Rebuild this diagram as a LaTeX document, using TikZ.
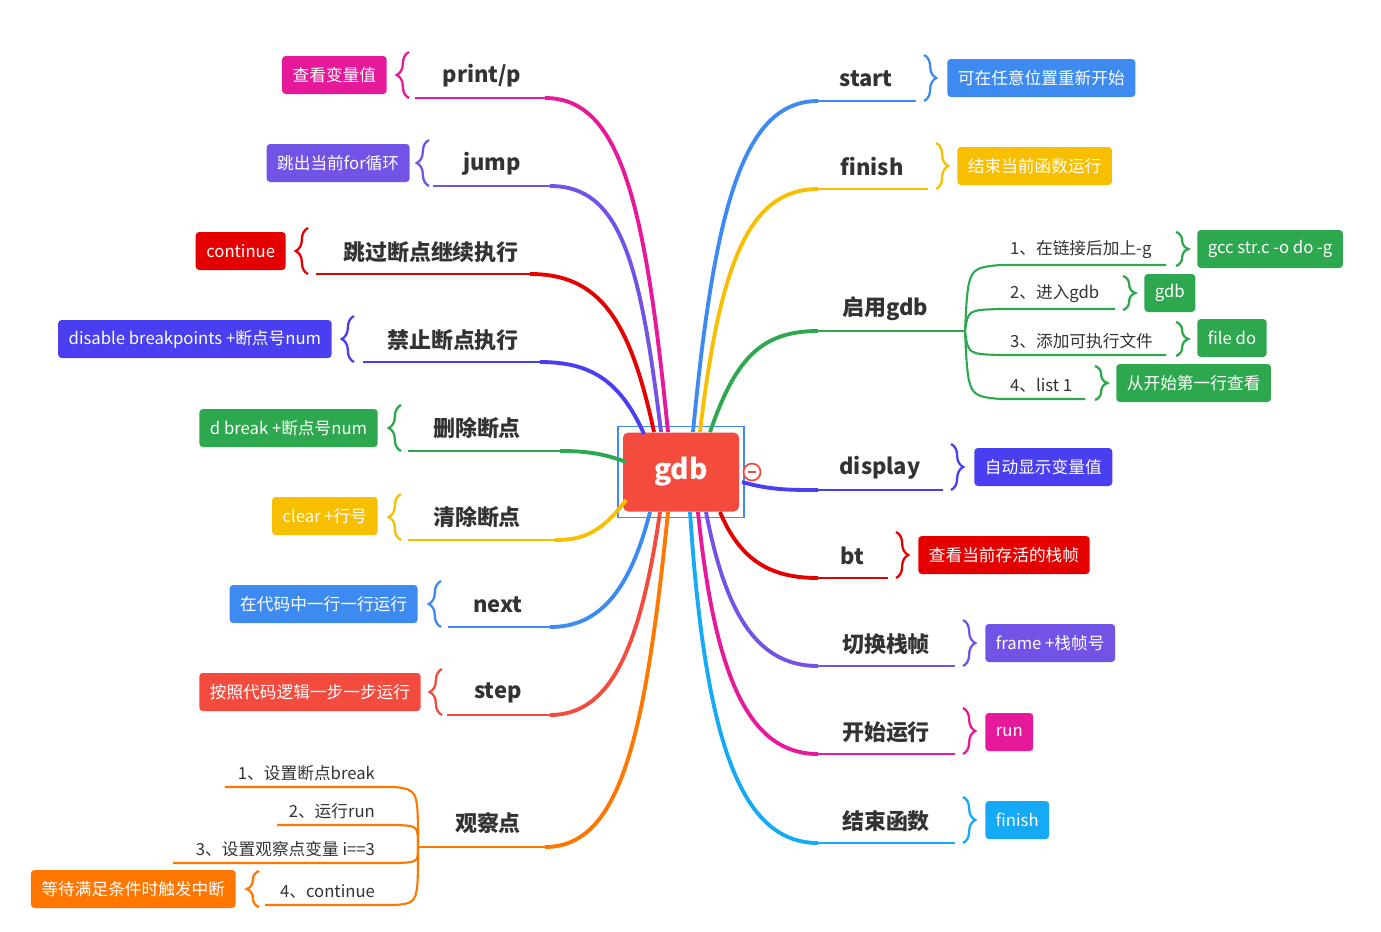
\documentclass[tikz,border=0pt]{standalone}
\usepackage{fontspec}
\setmainfont{Noto Sans CJK SC}
\usetikzlibrary{decorations.pathreplacing}
\definecolor{cpink}{HTML}{E5199A}
\definecolor{cpurple}{HTML}{7253E6}
\definecolor{cred}{HTML}{E50000}
\definecolor{cindigo}{HTML}{4A3FF0}
\definecolor{cgreen}{HTML}{2DA84E}
\definecolor{cyellow}{HTML}{F8BE00}
\definecolor{cblue}{HTML}{3D8BF0}
\definecolor{ctomato}{HTML}{F44B3F}
\definecolor{corange}{HTML}{FF7600}
\definecolor{ccyan}{HTML}{16A9F5}
\tikzset{
	box/.style={fill=#1, text=white, rounded corners=2pt, font=\fontsize{9.5}{11}\selectfont,
		minimum height=0.76cm, inner xsep=6pt},
	topic/.style={font=\fontsize{12.5}{14}\selectfont\bfseries, text=black!80, inner sep=1pt},
	item/.style={font=\fontsize{9.5}{11}\selectfont, text=black!80, inner sep=1pt, anchor=south east},
	curl/.style={draw=#1, line width=1.3pt, decorate, decoration={brace, amplitude=7pt}},
	branch/.style={draw=#1, line width=2.2pt},
	uline/.style={draw=#1, line width=1.2pt},
}
\begin{document}
\begin{tikzpicture}[x=0.02cm, y=-0.02cm]
	\useasboundingbox (0,0) rectangle (1381,931);

	% centre
	\node[draw=cblue, line width=1pt, minimum width=2.52cm, minimum height=1.82cm] (sel) at (681,472) {};
	\node[fill=ctomato, rounded corners=3pt, minimum width=2.32cm, minimum height=1.58cm,
		text=white, font=\fontsize{16}{18}\selectfont\bfseries] (gdb) at (681,472) {gdb};
	\node[draw=ctomato, circle, line width=1pt, inner sep=0pt, minimum size=0.34cm, fill=white] (fold) at (752,472) {};
	\draw[ctomato, line width=1.2pt] ([xshift=-2.5pt]fold.center) -- ([xshift=2.5pt]fold.center);

	% left side
	\node[topic] (l1) at (482,76) {print/p};
	\node[topic] (l2) at (492,164) {jump};
	\node[topic] (l3) at (431,252) {跳过断点继续执行};
	\node[topic] (l4) at (453,340) {禁止断点执行};
	\node[topic] (l5) at (477,428) {删除断点};
	\node[topic] (l6) at (477,517) {清除断点};
	\node[topic] (l7) at (498,605) {next};
	\node[topic] (l8) at (498,693) {step};
	\node[topic] (l9) at (488,823) {观察点};

	\coordinate (l1a) at (415,98);  \coordinate (l1b) at (545,98);
	\coordinate (l2a) at (433,186); \coordinate (l2b) at (550,186);
	\coordinate (l3a) at (316,274); \coordinate (l3b) at (530,274);
	\coordinate (l4a) at (363,362); \coordinate (l4b) at (540,362);
	\coordinate (l5a) at (408,451); \coordinate (l5b) at (560,451);
	\coordinate (l6a) at (408,540); \coordinate (l6b) at (555,540);
	\coordinate (l7a) at (448,627); \coordinate (l7b) at (550,627);
	\coordinate (l8a) at (447,715); \coordinate (l8b) at (550,715);
	\coordinate (l9a) at (418,847); \coordinate (l9b) at (545,847);

	\draw[uline=cpink] (l1a) -- (l1b);
	\draw[uline=cpurple] (l2a) -- (l2b);
	\draw[uline=cred] (l3a) -- (l3b);
	\draw[uline=cindigo] (l4a) -- (l4b);
	\draw[uline=cgreen] (l5a) -- (l5b);
	\draw[uline=cyellow] (l6a) -- (l6b);
	\draw[uline=cblue] (l7a) -- (l7b);
	\draw[uline=ctomato] (l8a) -- (l8b);
	\draw[uline=corange] (l9a) -- (l9b);

	\draw[branch=cpink] (668,432) .. controls (645,200) and (620,98) .. (l1b);
	\draw[branch=cpurple] (661,432) .. controls (640,260) and (620,186) .. (l2b);
	\draw[branch=cred] (654,432) .. controls (630,320) and (600,274) .. (l3b);
	\draw[branch=cindigo] (644,434) .. controls (620,380) and (590,362) .. (l4b);
	\draw[branch=cgreen] (626,462) .. controls (600,452) and (580,451) .. (l5b);
	\draw[branch=cyellow] (626,500) .. controls (600,535) and (580,540) .. (l6b);
	\draw[branch=cblue] (650,512) .. controls (630,590) and (600,627) .. (l7b);
	\draw[branch=ctomato] (660,512) .. controls (640,650) and (610,715) .. (l8b);
	\draw[branch=corange] (668,512) .. controls (645,740) and (620,847) .. (l9b);

	\node[box=cpink, anchor=east] (b1) at (387,75) {查看变量值};
	\node[box=cpurple, anchor=east] (b2) at (410,163) {跳出当前for循环};
	\node[box=cred, anchor=east] (b3) at (286,251) {continue};
	\node[box=cindigo, anchor=east] (b4) at (332,339) {disable breakpoints +断点号num};
	\node[box=cgreen, anchor=east] (b5) at (378,428) {d break +断点号num};
	\node[box=cyellow, anchor=east] (b6) at (378,516) {clear +行号};
	\node[box=cblue, anchor=east] (b7) at (418,604) {在代码中一行一行运行};
	\node[box=ctomato, anchor=east] (b8) at (421,692) {按照代码逻辑一步一步运行};

	\draw[curl=cpink] (409,98) -- (409,52);
	\draw[curl=cpurple] (429,186) -- (429,140);
	\draw[curl=cred] (308,274) -- (308,228);
	\draw[curl=cindigo] (354,362) -- (354,316);
	\draw[curl=cgreen] (401,451) -- (401,405);
	\draw[curl=cyellow] (401,540) -- (401,494);
	\draw[curl=cblue] (441,627) -- (441,581);
	\draw[curl=ctomato] (442,715) -- (442,669);

	% watch point items
	\node[item] (w1) at (377,783) {1、设置断点break};
	\node[item] (w2) at (377,821) {2、运行run};
	\node[item] (w3) at (377,859) {3、设置观察点变量 i==3};
	\node[item] (w4) at (377,901) {4、continue};
	\draw[uline=corange] (l9a) .. controls (418,790) .. (395,787) -- (225,787);
	\draw[uline=corange] (l9a) .. controls (418,826) .. (398,825) -- (277,825);
	\draw[uline=corange] (l9a) .. controls (418,862) .. (398,863) -- (173,863);
	\draw[uline=corange] (l9a) .. controls (418,903) .. (395,905) -- (265,905);
	\draw[curl=corange] (259,907) -- (259,871);
	\node[box=corange, anchor=east] (w4b) at (236,889) {等待满足条件时触发中断};

	% right side
	\node[topic] (r1) at (866,79) {start};
	\node[topic] (r2) at (872,167) {finish};
	\node[topic] (r3) at (885,309) {启用gdb};
	\node[topic] (r4) at (880,468) {display};
	\node[topic] (r5) at (852,556) {bt};
	\node[topic] (r6) at (886,644) {切换栈帧};
	\node[topic] (r7) at (886,732) {开始运行};
	\node[topic] (r8) at (886,821) {结束函数};

	\coordinate (r1a) at (818,101); \coordinate (r1b) at (916,101);
	\coordinate (r2a) at (818,189); \coordinate (r2b) at (928,189);
	\coordinate (r3a) at (818,331); \coordinate (r3b) at (965,331);
	\coordinate (r4a) at (818,490); \coordinate (r4b) at (943,490);
	\coordinate (r5a) at (818,578); \coordinate (r5b) at (888,578);
	\coordinate (r6a) at (818,666); \coordinate (r6b) at (955,666);
	\coordinate (r7a) at (818,754); \coordinate (r7b) at (955,754);
	\coordinate (r8a) at (818,843); \coordinate (r8b) at (955,843);

	\draw[uline=cblue] (r1a) -- (r1b);
	\draw[uline=cyellow] (r2a) -- (r2b);
	\draw[uline=cgreen] (r3a) -- (r3b);
	\draw[uline=cindigo] (r4a) -- (r4b);
	\draw[uline=cred] (r5a) -- (r5b);
	\draw[uline=cpurple] (r6a) -- (r6b);
	\draw[uline=cpink] (r7a) -- (r7b);
	\draw[uline=ccyan] (r8a) -- (r8b);

	\draw[branch=cblue] (693,432) .. controls (715,200) and (745,101) .. (r1a);
	\draw[branch=cyellow] (700,432) .. controls (720,260) and (750,189) .. (r2a);
	\draw[branch=cgreen] (710,432) .. controls (735,360) and (760,331) .. (r3a);
	\draw[branch=cindigo] (742,482) .. controls (770,490) and (790,490) .. (r4a);
	\draw[branch=cred] (720,512) .. controls (740,560) and (770,578) .. (r5a);
	\draw[branch=cpurple] (706,512) .. controls (725,610) and (755,666) .. (r6a);
	\draw[branch=cpink] (698,512) .. controls (715,680) and (750,754) .. (r7a);
	\draw[branch=ccyan] (690,512) .. controls (705,740) and (740,843) .. (r8a);

	\draw[curl=cblue] (924,55) -- (924,101);
	\draw[curl=cyellow] (936,143) -- (936,189);
	\draw[curl=cindigo] (951,444) -- (951,490);
	\draw[curl=cred] (896,532) -- (896,578);
	\draw[curl=cpurple] (963,620) -- (963,666);
	\draw[curl=cpink] (963,708) -- (963,754);
	\draw[curl=ccyan] (963,797) -- (963,843);

	\node[box=cblue, anchor=west] (c1) at (947,78) {可在任意位置重新开始};
	\node[box=cyellow, anchor=west] (c2) at (957,166) {结束当前函数运行};
	\node[box=cindigo, anchor=west] (c4) at (974,467) {自动显示变量值};
	\node[box=cred, anchor=west] (c5) at (918,555) {查看当前存活的栈帧};
	\node[box=cpurple, anchor=west] (c6) at (985,643) {frame +栈帧号};
	\node[box=cpink, anchor=west] (c7) at (985,732) {run};
	\node[box=ccyan, anchor=west] (c8) at (985,820) {finish};

	% enable gdb items
	\node[item, anchor=south west] (g1) at (1008,261) {1、在链接后加上-g};
	\node[item, anchor=south west] (g2) at (1008,305) {2、进入gdb};
	\node[item, anchor=south west] (g3) at (1008,351) {3、添加可执行文件};
	\node[item, anchor=south west] (g4) at (1008,395) {4、list 1};
	\draw[uline=cgreen] (r3b) .. controls (968,268) .. (1000,265) -- (1166,265);
	\draw[uline=cgreen] (r3b) .. controls (968,310) .. (1000,309) -- (1115,309);
	\draw[uline=cgreen] (r3b) .. controls (968,354) .. (1000,355) -- (1166,355);
	\draw[uline=cgreen] (r3b) .. controls (968,396) .. (1000,399) -- (1085,399);
	\draw[curl=cgreen] (1176,232) -- (1176,266);
	\draw[curl=cgreen] (1123,276) -- (1123,310);
	\draw[curl=cgreen] (1176,322) -- (1176,356);
	\draw[curl=cgreen] (1095,366) -- (1095,400);
	\node[box=cgreen, anchor=west] (g1b) at (1197,249) {gcc str.c -o do -g};
	\node[box=cgreen, anchor=west] (g2b) at (1144,293) {gdb};
	\node[box=cgreen, anchor=west] (g3b) at (1197,338) {file do};
	\node[box=cgreen, anchor=west] (g4b) at (1116,383) {从开始第一行查看};
\end{tikzpicture}
\end{document}
